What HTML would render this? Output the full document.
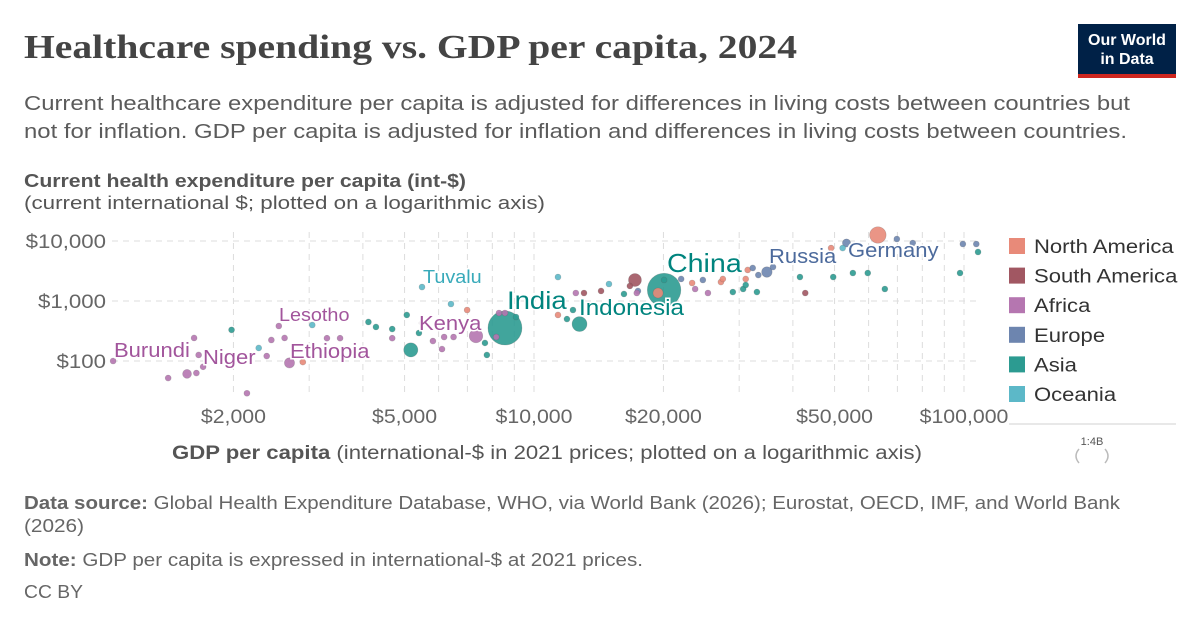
<!DOCTYPE html>
<html><head><meta charset="utf-8"><style>
body{margin:0;background:#fff;width:1200px;height:627px;overflow:hidden;font-family:"Liberation Sans",sans-serif}
svg{display:block}
</style></head><body>
<svg id="chart" width="1200" height="627" viewBox="0 0 1200 627">
<text x="24" y="58" font-family="Liberation Serif,serif" font-weight="bold" font-size="34" fill="#444" textLength="773" lengthAdjust="spacingAndGlyphs">Healthcare spending vs. GDP per capita, 2024</text>
<g>
<rect x="1078" y="24" width="98" height="54" fill="#002147"/>
<rect x="1078" y="74" width="98" height="4" fill="#ce261e"/>
<text x="1127" y="45" text-anchor="middle" font-size="16" font-weight="bold" fill="#fff">Our World</text>
<text x="1127" y="64" text-anchor="middle" font-size="16" font-weight="bold" fill="#fff">in Data</text>
</g>
<text x="24" y="110" font-size="20" fill="#5b5b5b" textLength="1106" lengthAdjust="spacingAndGlyphs">Current healthcare expenditure per capita is adjusted for differences in living costs between countries but</text>
<text x="24" y="138" font-size="20" fill="#5b5b5b" textLength="1103" lengthAdjust="spacingAndGlyphs">not for inflation. GDP per capita is adjusted for inflation and differences in living costs between countries.</text>
<text x="24" y="187" font-size="18" font-weight="bold" fill="#555" textLength="442" lengthAdjust="spacingAndGlyphs">Current health expenditure per capita (int-$)</text>
<text x="24" y="209" font-size="18" fill="#555" textLength="521" lengthAdjust="spacingAndGlyphs">(current international $; plotted on a logarithmic axis)</text>
<g id="grid"></g>
<g id="points"></g>
<g id="labels"></g>
<text x="172" y="459" font-size="19" fill="#555" textLength="750" lengthAdjust="spacingAndGlyphs"><tspan font-weight="bold">GDP per capita</tspan> (international-$ in 2021 prices; plotted on a logarithmic axis)</text>
<g id="legend"></g>
<line x1="1009" y1="424" x2="1176" y2="424" stroke="#e0e0e0" stroke-width="1.5"/>
<g>
<text x="1092" y="445" text-anchor="middle" font-size="11" fill="#555">1:4B</text>
<path d="M1079 449 Q1073 456 1079 463" fill="none" stroke="#bbb" stroke-width="1.5"/>
<path d="M1105 449 Q1111 456 1105 463" fill="none" stroke="#bbb" stroke-width="1.5"/>
</g>
<text x="24" y="509" font-size="18" fill="#666" textLength="1096" lengthAdjust="spacingAndGlyphs"><tspan font-weight="bold">Data source:</tspan> Global Health Expenditure Database, WHO, via World Bank (2026); Eurostat, OECD, IMF, and World Bank</text>
<text x="24" y="532" font-size="18" fill="#666" textLength="60" lengthAdjust="spacingAndGlyphs">(2026)</text>
<text x="24" y="566" font-size="18" fill="#666" textLength="619" lengthAdjust="spacingAndGlyphs"><tspan font-weight="bold">Note:</tspan> GDP per capita is expressed in international-$ at 2021 prices.</text>
<text x="24" y="598" font-size="18" fill="#666" textLength="59" lengthAdjust="spacingAndGlyphs">CC BY</text>
</svg>
<script>
const xTicks=[2000,5000,10000,20000,50000,100000];
const xTickLabels=["$2,000","$5,000","$10,000","$20,000","$50,000","$100,000"];
const xMinor=[3000,4000,6000,7000,8000,9000,30000,40000,60000,70000,80000,90000];
const yTicks=[100,1000,10000];
const yTickLabels=["$100","$1,000","$10,000"];
const regions=["North America","South America","Africa","Europe","Asia","Oceania"];
const fills=["#e88a79","#a15762","#b576b0","#6d85af","#2c9b91","#5cb8c8"];
const textCols=["#e56e5a","#883039","#a2559c","#4c6a9c","#00847e","#38aaba"];
// region codes: 0 NA,1 SA,2 AF,3 EU,4 AS,5 OC
const gdp=[1050,1410,1560,1640,1620,1660,1700,2150,2290,2390,2550,2450,2630,2700,2900,3050,3300,3540,1980,4120,4290,4680,4680,5060,5170,5490,5400,5820,6110,5490,6410,6990,6180,6500,7330,7690,7770,8560,8170,8290,8560,9080,12760,12320,11930,11370,11370,12510,13070,14320,14940,16190,17170,16710,17450,17340,20070,19430,20070,21990,23320,24700,23700,25380,27210,27490,29000,30650,31070,31070,31400,32260,33240,32990,34800,35960,41540,42740,49640,49080,52220,53300,55150,59730,63060,69800,76000,65450,97900,99400,106800,107800];
const health=[100,52,61,63,242,126,80,29,165,121,383,224,242,93,96,398,240,240,330,447,369,341,240,585,153,430,293,215,158,1710,891,708,251,251,261,200,126,355,251,631,631,541,413,708,500,585,2510,1360,1360,1470,1920,1310,2240,1780,1470,1360,1525,1360,2240,2330,1995,2240,1585,1360,2070,2330,1410,1585,1850,2330,3290,3550,2710,1410,3040,3680,2510,1360,2510,7630,7630,9260,2930,2930,12590,10800,9260,1585,2930,8910,8910,6560];
const region=[2,2,2,2,2,2,2,2,5,2,2,2,2,2,0,5,2,2,4,4,4,4,2,4,4,2,4,2,2,5,5,0,2,2,2,4,4,4,2,2,2,4,4,4,4,0,5,2,1,1,5,4,1,1,3,2,4,0,4,3,0,3,2,2,0,0,4,4,4,0,0,3,3,4,3,3,4,1,4,0,5,3,4,4,0,3,3,4,4,3,3,4];
const pop=[13,20,100,20,10,10,10,15,0.1,27,2,10,10,130,11,0.5,10,10,40,5,5,5,10,5,250,10,10,10,10,0.01,0.3,1,10,10,230,40,5,1450,10,10,10,10,280,10,10,5,0.5,5,20,15,1,5,210,10,5,5,1410,130,10,10,5,10,5,5,5,5,5,40,5,5,5,5,5,5,140,5,5,20,5,5,1,84,5,5,340,5,5,5,5,5,5,5];
const X=v=>534+430*(Math.log10(v)-4);
const Y=v=>301-60*(Math.log10(v)-3);
const NS="http://www.w3.org/2000/svg";
function mk(t,a,p){const e=document.createElementNS(NS,t);for(const k in a)e.setAttribute(k,a[k]);p.appendChild(e);return e;}
function widen(t,f){const w=t.getComputedTextLength();t.setAttribute('textLength',w*f);t.setAttribute('lengthAdjust','spacingAndGlyphs');}
const grid=document.getElementById('grid');
xTicks.concat(xMinor).forEach(v=>{
 const l=mk('line',{x1:X(v),x2:X(v),y1:232,y2:392,stroke:'#ddd','stroke-dasharray':'6,5'},grid);
 
 
});
yTicks.forEach((v,i)=>{
 const l=mk('line',{x1:112,x2:978,y1:Y(v),y2:Y(v),stroke:'#ddd','stroke-dasharray':'6,5'},grid);
 
 
 const t=mk('text',{x:106,y:Y(v)+7,'text-anchor':'end','font-size':19,fill:'#666'},grid);
 t.textContent=yTickLabels[i];
 
 
 widen(t,1.17);
});
xTicks.forEach((v,i)=>{
 const t=mk('text',{x:X(v),y:423,'text-anchor':'middle','font-size':19,fill:'#666'},grid);
 t.textContent=xTickLabels[i];
 
 
 widen(t,1.12);
});
const pts=document.getElementById('points');
const idx=gdp.map((_,i)=>i).sort((a,b)=>pop[b]-pop[a]);
idx.forEach(i=>{
 const r=Math.max(3,0.447*Math.sqrt(pop[i]));
 const c=mk('circle',{cx:X(gdp[i]),cy:Y(health[i]),r:r,fill:fills[region[i]],'fill-opacity':0.9,stroke:'#555','stroke-opacity':0.3,'stroke-width':0.6},pts);
 
 
});
const labs=[["Burundi",114,357,20,2],["Niger",203,364,20,2],["Lesotho",279,321,18,2],["Ethiopia",290,358,20,2],["Kenya",419,330,20,2],["Tuvalu",423,283,18,5],["India",507,309,25,4],["Indonesia",579,315,22,4],["China",667,272,26,4],["Russia",769,263,20,3],["Germany",848,257,20,3]];
const lg=document.getElementById('labels');
labs.forEach(l=>{
 const t=mk('text',{x:l[1],y:l[2],'font-size':l[3],fill:textCols[l[4]],stroke:'#fff','stroke-width':3,'paint-order':'stroke'},lg);
 t.textContent=l[0];
 
 
 widen(t,1.1);
});
const leg=document.getElementById('legend');
regions.forEach((r,i)=>{
 const y=246+29.6*i;
 const g=mk('g',{},leg);
 
 
 mk('rect',{x:1009,y:y-8,width:16,height:16,fill:fills[i]},g);
 const t=mk('text',{x:1034,y:y+7,'font-size':19,fill:'#333'},g);
 t.textContent=r;
 widen(t,1.16);
});
</script>
</body></html>
